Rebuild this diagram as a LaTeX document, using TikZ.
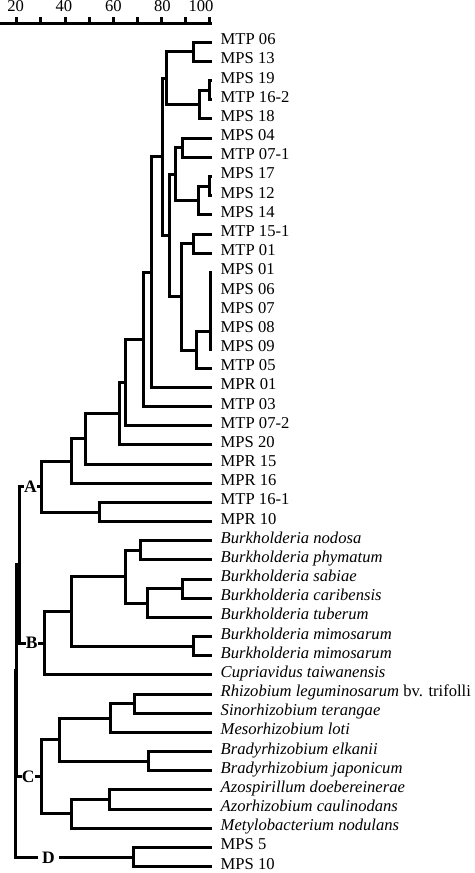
\documentclass[tikz,border=0pt]{standalone}
\usepackage{fontspec}
\setmainfont{Liberation Serif}
\tikzset{
  tree/.style={line width=3pt, line cap=rect, line join=miter},
  leaflab/.style={inner sep=0pt, anchor=base west},
  scalelab/.style={inner sep=0pt, anchor=base},
  clab/.style={font=\fontsize{17.5}{19}\selectfont\bfseries, fill=white, inner sep=0.3pt},
}
\newcommand\leafnode[2]{%
  \pgfmathsetmacro\yy{42.3+(#1-1)*19.17}%
  \coordinate (t#1) at (210,\yy);%
  \node[leaflab] (l#1) at (220.5,\yy+2.5) {#2};}
\begin{document}
\begin{tikzpicture}[x=1pt,y=-1pt,font=\fontsize{16.6}{18}\selectfont]
\useasboundingbox (0,0) rectangle (474,873);
% scale
\coordinate (ax0) at (0,23.3);
\coordinate (ax1) at (210,23.3);
\draw[tree] (ax0) -- (ax1);
\foreach \k in {0,...,8}{
  \coordinate (tk\k) at (16.7+24.16*\k,23.3);
  \coordinate (tt\k) at (16.7+24.16*\k,18.2);
  \draw[tree] (tk\k) -- (tt\k);
}
\node[scalelab] (s20) at (15.7,11.7) {20};
\node[scalelab] (s40) at (63.8,11.7) {40};
\node[scalelab] (s60) at (113.3,11.7) {60};
\node[scalelab] (s80) at (162.3,11.7) {80};
\node[scalelab] (s100) at (201,11.7) {100};
% leaves
\leafnode{1}{MTP 06}
\leafnode{2}{MPS 13}
\leafnode{3}{MPS 19}
\leafnode{4}{MTP 16-2}
\leafnode{5}{MPS 18}
\leafnode{6}{MPS 04}
\leafnode{7}{MTP 07-1}
\leafnode{8}{MPS 17}
\leafnode{9}{MPS 12}
\leafnode{10}{MPS 14}
\leafnode{11}{MTP 15-1}
\leafnode{12}{MTP 01}
\leafnode{13}{MPS 01}
\leafnode{14}{MPS 06}
\leafnode{15}{MPS 07}
\leafnode{16}{MPS 08}
\leafnode{17}{MPS 09}
\leafnode{18}{MTP 05}
\leafnode{19}{MPR 01}
\leafnode{20}{MTP 03}
\leafnode{21}{MTP 07-2}
\leafnode{22}{MPS 20}
\leafnode{23}{MPR 15}
\leafnode{24}{MPR 16}
\leafnode{25}{MTP 16-1}
\leafnode{26}{MPR 10}
\leafnode{27}{\textit{Burkholderia nodosa}}
\leafnode{28}{\textit{Burkholderia phymatum}}
\leafnode{29}{\textit{Burkholderia sabiae}}
\leafnode{30}{\textit{Burkholderia caribensis}}
\leafnode{31}{\textit{Burkholderia tuberum}}
\leafnode{32}{\textit{Burkholderia mimosarum}}
\leafnode{33}{\textit{Burkholderia mimosarum}}
\leafnode{34}{\textit{Cupriavidus taiwanensis}}
\leafnode{35}{\textit{Rhizobium leguminosarum} bv. trifolli}
\leafnode{36}{\textit{Sinorhizobium terangae}}
\leafnode{37}{\textit{Mesorhizobium loti}}
\leafnode{38}{\textit{Bradyrhizobium elkanii}}
\leafnode{39}{\textit{Bradyrhizobium japonicum}}
\leafnode{40}{\textit{Azospirillum doebereinerae}}
\leafnode{41}{\textit{Azorhizobium caulinodans}}
\leafnode{42}{\textit{Metylobacterium nodulans}}
\leafnode{43}{MPS 5}
\leafnode{44}{MPS 10}
% internal nodes
\coordinate (n12) at (193.3,51.9);
\coordinate (n34) at (209.3,90.2);
\coordinate (n35) at (199,104.6);
\coordinate (n15) at (166.7,78.3);
\coordinate (n67) at (182.3,147.7);
\coordinate (n89) at (209.3,186.1);
\coordinate (n810) at (198.7,200.5);
\coordinate (n610) at (175,174.1);
\coordinate (n1112) at (193.3,243.6);
\coordinate (n1317) at (210,331.7);
\coordinate (n1318) at (196.7,350);
\coordinate (n1118) at (181,296.8);
\coordinate (n618) at (169.3,235.5);
\coordinate (n118) at (162.7,156.9);
\coordinate (n119) at (151.7,272.1);
\coordinate (n120) at (143.3,339.3);
\coordinate (n121) at (125,382.5);
\coordinate (n122) at (119.3,413.7);
\coordinate (n123) at (85,438.9);
\coordinate (n124) at (71.7,461.0);
\coordinate (n2526) at (99,512.0);
\coordinate (nA) at (41.7,486.5);
\coordinate (n2728) at (140,550.3);
\coordinate (n2930) at (182.7,588.6);
\coordinate (n2931) at (147.7,603.0);
\coordinate (n2731) at (125,576.7);
\coordinate (n3233) at (193.3,646.2);
\coordinate (n2733) at (71,611.4);
\coordinate (nB) at (44.3,643.2);
\coordinate (n3536) at (134.3,703.7);
\coordinate (n3537) at (110,718.0);
\coordinate (n3839) at (148.3,761.2);
\coordinate (n3539) at (59,739.6);
\coordinate (n4041) at (109,799.5);
\coordinate (n4042) at (71.7,813.9);
\coordinate (nC) at (41.7,776.8);
\coordinate (nD) at (133.3,857.0);
\coordinate (nAB) at (19.3,564.9);
\coordinate (nABC) at (16.7,670.9);
\coordinate (root) at (15,764);
% branches
\draw[tree] (t1) -| (n12) |- (t2);
\draw[tree] (t3) -| (n34) |- (t4);
\draw[tree] (n34) -| (n35) |- (t5);
\draw[tree] (n12) -| (n15) |- (n35);
\draw[tree] (t6) -| (n67) |- (t7);
\draw[tree] (t8) -| (n89) |- (t9);
\draw[tree] (n89) -| (n810) |- (t10);
\draw[tree] (n67) -| (n610) |- (n810);
\draw[tree] (t11) -| (n1112) |- (t12);
\draw[tree] (t13) -- (t17);
\draw[tree] (n1317) -| (n1318) |- (t18);
\draw[tree] (n1112) -| (n1118) |- (n1318);
\draw[tree] (n610) -| (n618) |- (n1118);
\draw[tree] (n15) -| (n118) |- (n618);
\draw[tree] (n118) -| (n119) |- (t19);
\draw[tree] (n119) -| (n120) |- (t20);
\draw[tree] (n120) -| (n121) |- (t21);
\draw[tree] (n121) -| (n122) |- (t22);
\draw[tree] (n122) -| (n123) |- (t23);
\draw[tree] (n123) -| (n124) |- (t24);
\draw[tree] (t25) -| (n2526) |- (t26);
\draw[tree] (n124) -| (nA) |- (n2526);
\draw[tree] (t27) -| (n2728) |- (t28);
\draw[tree] (t29) -| (n2930) |- (t30);
\draw[tree] (n2930) -| (n2931) |- (t31);
\draw[tree] (n2728) -| (n2731) |- (n2931);
\draw[tree] (t32) -| (n3233) |- (t33);
\draw[tree] (n2731) -| (n2733) |- (n3233);
\draw[tree] (n2733) -| (nB) |- (t34);
\draw[tree] (t35) -| (n3536) |- (t36);
\draw[tree] (n3536) -| (n3537) |- (t37);
\draw[tree] (t38) -| (n3839) |- (t39);
\draw[tree] (n3537) -| (n3539) |- (n3839);
\draw[tree] (t40) -| (n4041) |- (t41);
\draw[tree] (n4041) -| (n4042) |- (t42);
\draw[tree] (n3539) -| (nC) |- (n4042);
\draw[tree] (t43) -| (nD) |- (t44);
\draw[tree] (nA) -| (nAB) |- (nB);
\draw[tree] (nAB) -| (nABC) |- (nC);
\draw[tree] (nABC) -| (root) |- (nD);
% cluster labels
\node[clab] (labA) at (30.5,486.5) {A};
\node[clab] (labB) at (31.7,643.2) {B};
\node[clab] (labC) at (28.3,776.8) {C};
\node[clab, inner xsep=4.5pt] (labD) at (48.5,858) {D};
\end{tikzpicture}
\end{document}
